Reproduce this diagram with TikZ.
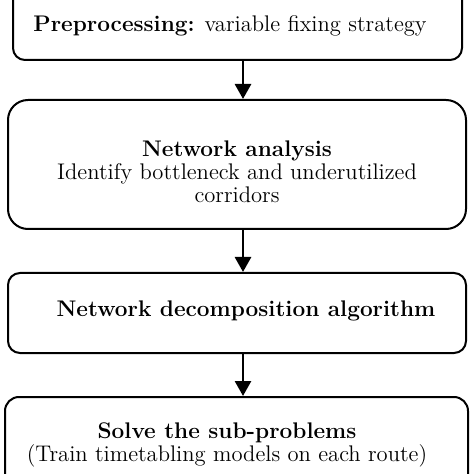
\documentclass[tikz,border=0pt]{standalone}
\usetikzlibrary{arrows.meta}
\begin{document}
\begin{tikzpicture}[x=0.5pt,y=-0.5pt,
  line cap=round,line join=round,
  every node/.style={font=\fontsize{11.3}{11.4}\selectfont},
  B/.style={draw,line width=1pt,rounded corners=#1,inner sep=0pt},
  A/.style={line width=1.4pt,line cap=butt,-{Triangle[width=8pt,length=7.5pt]}},
  t/.style={align=center,inner sep=0pt}]

  \useasboundingbox (0,0) rectangle (474,474);
  \clip (0,0) rectangle (474,474);

  %% ---- frames (the first and last run past the page edge)
  \node[B=6pt,minimum width=224.5pt,minimum height=40pt]  (prep)     at (237.5,20)  {};
  \node[B=10pt,minimum width=229pt,minimum height=64.5pt] (analysis) at (237,164.5) {};
  \node[B=6pt,minimum width=229pt,minimum height=40pt]    (decomp)   at (237,313)   {};
  \node[B=7pt,minimum width=231.5pt,minimum height=50pt]  (solve)    at (236.5,447) {};

  %% ---- texts
  \node[t] (preptext)     at (230,26)  {\textbf{Preprocessing:} variable fixing strategy};
  \node[t] (analysistext) at (237,172) {\textbf{Network analysis}\\Identify bottleneck and underutilized\\corridors};
  \node[t] (decomptext)   at (246,311) {\textbf{Network decomposition algorithm}};
  \node[t] (solvetext)    at (227,445) {\textbf{Solve the sub-problems}\\(Train timetabling models on each route)};

  %% ---- arrows (all on one vertical, a little right of the frame centres)
  \coordinate (ax) at (243,0);
  \draw[A] (prep.south -| ax)     -- (analysis.north -| ax);
  \draw[A] (analysis.south -| ax) -- (decomp.north -| ax);
  \draw[A] (decomp.south -| ax)   -- (solve.north -| ax);
\end{tikzpicture}
\end{document}
